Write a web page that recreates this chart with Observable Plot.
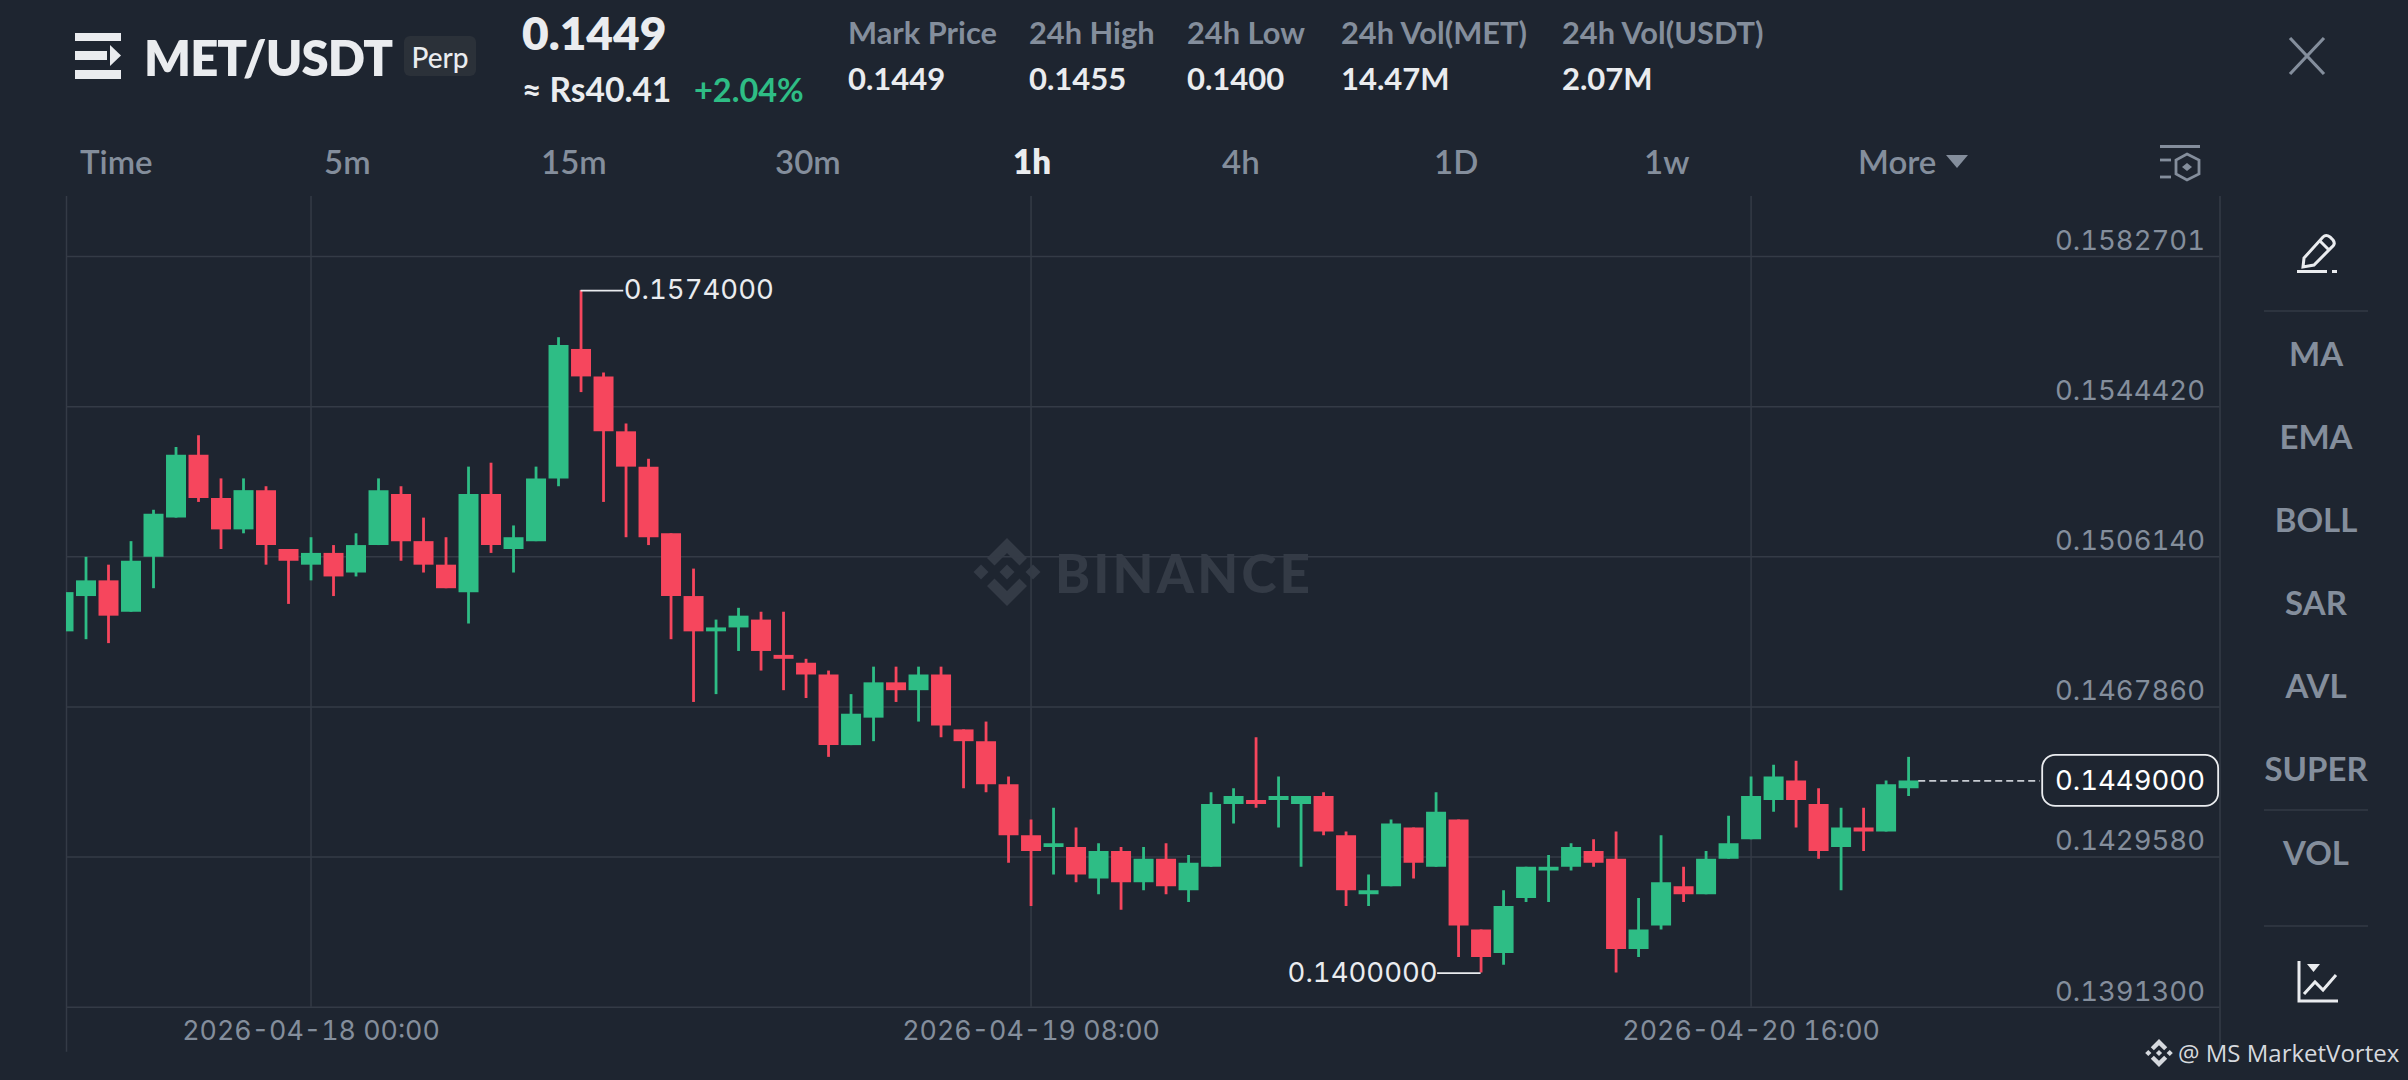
<!DOCTYPE html>
<html>
<head>
<meta charset="utf-8">
<title>MET/USDT Perp</title>
<script src="https://cdn.jsdelivr.net/npm/d3@7"></script>
<script src="https://cdn.jsdelivr.net/npm/@observablehq/plot@0.6"></script>
<style>
  html, body { margin: 0; padding: 0; width: 2408px; height: 1080px; overflow: hidden; background: #1e2530; }
  #stage { position: relative; width: 2408px; height: 1080px; overflow: hidden; font-family: Lato, "Noto Sans", sans-serif; }
  #chart { position: absolute; left: 0; top: 196px; }
  #chart svg { display: block; background: transparent; }
  .t { position: absolute; white-space: nowrap; transform: translateY(-50%); line-height: 1; }
  .c { transform: translate(-50%, -50%); }
  .ico { position: absolute; display: block; overflow: visible; }
  .rule { position: absolute; height: 1.5px; background: #2d343f; }
</style>
</head>
<body>
<div id="stage">
  <svg width="0" height="0" style="position:absolute">
    <defs>
      <g id="bn">
        <polygon points="0,-7.5 7.5,0 0,7.5 -7.5,0"/>
        <polygon points="-26,-7.5 -18.5,0 -26,7.5 -33.5,0"/>
        <polygon points="26,-7.5 33.5,0 26,7.5 18.5,0"/>
        <polygon points="0,-34 20,-14 12.5,-6.5 0,-19 -12.5,-6.5 -20,-14"/>
        <polygon points="0,34 20,14 12.5,6.5 0,19 -12.5,6.5 -20,14"/>
      </g>
    </defs>
  </svg>
  <svg class="ico" style="left:973px;top:538px" width="68" height="68" viewBox="-34 -34 68 68" fill="#343b46"><use href="#bn"/></svg>
  <div class="t" style="left:1055px;top:572px;font-size:53px;font-weight:900;letter-spacing:3.2px;color:#343b46">BINANCE</div>
  <div id="chart"></div>
  <div id="overlay"></div>
  <svg class="ico" style="left:75px;top:33px" width="47" height="46" viewBox="0 0 47 46" fill="#eaecef">
    <rect x="0" y="0" width="46" height="8"/><rect x="0" y="18" width="32" height="9"/><polygon points="35,12 46,22.500 35,33"/><rect x="0" y="37" width="46" height="9"/>
  </svg>
  <svg class="ico" style="left:2288px;top:36px" width="38" height="40" viewBox="0 0 38 40" stroke="#848e9c" stroke-width="3.2" fill="none"><line x1="2" y1="2" x2="36" y2="38"/><line x1="36" y1="2" x2="2" y2="38"/></svg>
  <svg class="ico" style="left:2160px;top:145px" width="40" height="37" viewBox="0 0 40 37" fill="none" stroke="#848e9c" stroke-width="2.8">
    <line x1="0" y1="1.500" x2="40" y2="1.500"/><line x1="0" y1="15" x2="11" y2="15"/><line x1="0" y1="32" x2="11" y2="32"/>
    <polygon points="27,9 39,15 39,29 27,35 16,29 16,15"/><polygon points="27,18 32,22 27,26 22,22" fill="#848e9c" stroke="none"/>
  </svg>
  <svg class="ico" style="left:2296px;top:232px" width="42" height="42" viewBox="0 0 42 42" fill="none" stroke="#eaecef" stroke-width="3">
    <path d="M8 26 L27 5 Q30 2 34 5 L37 8 Q40 12 36 15 L18 33 L7 35 Z"/><line x1="24" y1="9" x2="33" y2="18"/>
    <line x1="1" y1="39.500" x2="31" y2="39.500"/><line x1="36" y1="39.500" x2="41" y2="39.500"/>
  </svg>
  <svg class="ico" style="left:2297px;top:961px" width="42" height="42" viewBox="0 0 42 42" fill="none" stroke="#eaecef" stroke-width="3">
    <polyline points="2,0 2,40 41,40"/><polyline points="7,33 18,21 26,29 39,14"/><polygon points="10,3 23,3 16.500,11" fill="#eaecef" stroke="none"/>
  </svg>
  <svg class="ico" style="left:2145px;top:1039px" width="28" height="28" viewBox="-34 -34 68 68" fill="#d6d9de"><use href="#bn"/></svg>
</div>
<script>
// Hourly candles, oldest first (the first one starts at startTime)
const startTime = "2026-04-17T13:00:00Z";
const opens  = [.1487,.1496,.1500,.1492,.1506,.1516,.1532,.1521,.1513,.1523,.1508,.1504,.1507,.1502,.1509,.1522,.1510,.1504,.1497,.1522,.1508,.1510,.1526,.1559,.1552,.1538,.1529,.1512,.1496,.1487,.1488,.1490,.1481,.1479,.1476,.1458,.1465,.1474,.1472,.1476,.1462,.1459,.1448,.1435,.1432,.1432,.1424,.1431,.1423,.1429,.1421,.1427,.1443,.1444,.1444,.1443,.1445,.1435,.1420,.1422,.1437,.1427,.1439,.1411,.1405,.1419,.1426,.1427,.1431,.1429,.1406,.1412,.1422,.1420,.1429,.1434,.1444,.1449,.1443,.1432,.1437,.1436,.1447];
const highs  = [.1497,.1506,.1504,.1510,.1518,.1534,.1537,.1526,.1526,.1524,.1508,.1511,.1509,.1512,.1526,.1524,.1516,.1511,.1529,.1530,.1514,.1529,.1562,.1574,.1553,.1540,.1531,.1512,.1503,.1490,.1493,.1492,.1492,.1480,.1477,.1471,.1478,.1478,.1478,.1478,.1462,.1464,.1450,.1439,.1442,.1437,.1433,.1432,.1432,.1433,.1430,.1446,.1447,.1460,.1450,.1445,.1446,.1436,.1425,.1439,.1437,.1446,.1439,.1411,.1421,.1427,.1430,.1433,.1434,.1436,.1419,.1435,.1427,.1431,.1440,.1450,.1453,.1454,.1447,.1442,.1442,.1449,.1455];
const lows   = [.1487,.1485,.1484,.1492,.1498,.1516,.1520,.1508,.1512,.1504,.1494,.1500,.1496,.1501,.1509,.1505,.1502,.1498,.1489,.1507,.1502,.1510,.1524,.1548,.1520,.1511,.1509,.1485,.1469,.1471,.1482,.1477,.1472,.1470,.1455,.1458,.1459,.1469,.1464,.1460,.1447,.1446,.1428,.1417,.1425,.1423,.1420,.1416,.1421,.1420,.1418,.1427,.1438,.1442,.1437,.1427,.1435,.1417,.1417,.1422,.1424,.1427,.1404,.1400,.1402,.1418,.1418,.1426,.1427,.1400,.1404,.1411,.1418,.1420,.1429,.1434,.1441,.1437,.1429,.1421,.1431,.1436,.1445];
const closes = [.1497,.1500,.1491,.1505,.1517,.1532,.1521,.1513,.1523,.1509,.1505,.1507,.1501,.1509,.1523,.1510,.1504,.1498,.1522,.1509,.1511,.1526,.1560,.1552,.1538,.1529,.1511,.1496,.1487,.1488,.1491,.1482,.1480,.1476,.1458,.1466,.1474,.1472,.1476,.1463,.1459,.1448,.1435,.1431,.1433,.1425,.1431,.1423,.1429,.1422,.1428,.1443,.1445,.1443,.1445,.1445,.1436,.1421,.1421,.1438,.1428,.1441,.1412,.1404,.1417,.1427,.1427,.1432,.1428,.1406,.1411,.1423,.1420,.1429,.1433,.1445,.1450,.1444,.1431,.1437,.1436,.1448,.1449];

const priceTicks = [0.1582701, 0.154442, 0.150614, 0.146786, 0.142958, 0.13913];
const timeTicks = ["2026-04-18T00:00:00Z", "2026-04-19T08:00:00Z", "2026-04-20T16:00:00Z"];
const highMark = 0.1574, lowMark = 0.14, lastPrice = 0.1449;

// Header and side panel text
const statLabels = ["Mark Price", "24h High", "24h Low", "24h Vol(MET)", "24h Vol(USDT)"];
const statValues = ["0.1449", "0.1455", "0.1400", "14.47M", "2.07M"];
const statLefts = [848, 1029, 1187, 1341, 1562];
const intervals = ["Time", "5m", "15m", "30m", "1h", "4h", "1D", "1w", "More"];
const intervalLefts = [80, 324, 541, 775, 1013, 1222, 1434, 1644, 1858];
const indicators = ["MA", "EMA", "BOLL", "SAR", "AVL", "SUPER", "VOL"];
const indicatorTops = [353, 436, 519, 602, 685, 768, 852];

const bg = "#1e2530", grid = "#343b46", muted = "#848e9c", white = "#eaecef";
const up = "#2ebd85", down = "#f6465d";

const hour = 3600e3;
const t0 = +new Date(startTime);
const at = h => new Date(t0 + h * hour);
const candles = opens.map((o, i) => ({
  time: at(i), open: o, high: highs[i], low: lows[i], close: closes[i],
  dir: closes[i] >= o ? "up" : "down"
}));
const iHigh = highs.indexOf(highMark), iLow = lows.indexOf(lowMark), iLast = candles.length - 1;
const ticks = timeTicks.map(d => new Date(d));

const plot = Plot.plot({
  width: 2408, height: 884,
  marginLeft: 66, marginRight: 188.5, marginTop: 0, marginBottom: 73.3,
  style: {background: "transparent", fontFamily: "Inter, sans-serif", overflow: "visible"},
  x: {type: "utc", domain: [at(0.133), at(95.84)], axis: null},
  y: {domain: [0.13913, 0.159800], axis: null},
  color: {domain: ["up", "down"], range: [up, down]},
  marks: [
    Plot.ruleY(priceTicks, {stroke: grid, strokeWidth: 1.5}),
    Plot.ruleX(ticks, {stroke: grid, strokeWidth: 1.5}),
    Plot.ruleX([at(0.133), at(95.84)], {y1: 0.13798, y2: 0.1598, stroke: grid, strokeWidth: 1.5}),
    Plot.axisY(priceTicks, {anchor: "right", tickSize: 0, tickPadding: -15, textAnchor: "end", dy: -15.5,
      fontSize: 27.5, color: muted, tickFormat: d => d.toFixed(7), label: null}),
    Plot.axisX(ticks, {anchor: "bottom", tickSize: 0, tickPadding: 14, fontSize: 26.8, color: muted,
      tickFormat: d3.utcFormat("%Y-%m-%d %H:%M"), label: null}),
    Plot.ruleX(candles, {x: "time", y1: "low", y2: "high", stroke: "dir", strokeWidth: 2.8, clip: true}),
    Plot.ruleX(candles, {x: "time", y1: "open", y2: "close", stroke: "dir", strokeWidth: 20, clip: true}),
    // high / low call-outs
    Plot.ruleY([highMark], {x1: at(iHigh), x2: at(iHigh + 1.9), stroke: white, strokeWidth: 1.8}),
    Plot.text([highMark], {x: at(iHigh + 1.9), y: d => d, text: d => d.toFixed(7), textAnchor: "start",
      fill: white, fontSize: 27.5, fontVariant: "tabular-nums"}),
    Plot.ruleY([lowMark], {x1: at(iLow - 1.93), x2: at(iLow), stroke: white, strokeWidth: 1.8}),
    Plot.text([lowMark], {x: at(iLow - 1.93), y: d => d, text: d => d.toFixed(7), textAnchor: "end",
      fill: white, fontSize: 27.5, fontVariant: "tabular-nums"}),
    // last price tag
    Plot.ruleY([lastPrice], {x1: at(iLast + 0.45), x2: at(iLast + 5.85), stroke: "#c8ccd2", strokeWidth: 1.6, strokeDasharray: "7,4"}),
    Plot.rect([lastPrice], {x1: at(iLast + 5.96), x2: at(iLast + 13.78), y1: 0.14425, y2: 0.14555, rx: 13,
      fill: bg, stroke: white, strokeWidth: 1.8}),
    Plot.text([lastPrice], {y: d => d, frameAnchor: "right", dx: -15, text: d => d.toFixed(7),
      textAnchor: "end", fill: "#ffffff", fontSize: 27.5, fontVariant: "tabular-nums"})
  ]
});
document.getElementById("chart").append(plot);

// Header, interval tabs and indicator buttons
const overlay = document.getElementById("overlay");
function put(text, left, top, css, center) {
  const el = document.createElement("div");
  el.className = center ? "t c" : "t";
  el.textContent = text;
  el.style.cssText = `left:${left}px;top:${top}px;` + css;
  overlay.append(el);
}
put("MET/USDT", 144, 57, `font-size:49px;font-weight:800;color:${white};letter-spacing:-0.9px`);
const badge = document.createElement("div");
badge.style.cssText = "position:absolute;left:404px;top:36px;width:72px;height:40px;border-radius:6px;background:#2b3139";
overlay.append(badge);
put("Perp", 440, 57, `font-size:28px;font-weight:500;color:${white}`, true);
put("0.1449", 522, 33, `font-size:46px;font-weight:800;color:${white}`);
put("≈ Rs40.41", 522, 90, `font-size:33.500px;font-weight:700;color:${white}`);
put("+2.04%", 694, 90, `font-size:32.500px;font-weight:700;color:${up}`);
statLabels.forEach((s, i) => put(s, statLefts[i], 33, `font-size:30.800px;font-weight:700;color:${muted}`));
statValues.forEach((s, i) => put(s, statLefts[i], 78, `font-size:31px;font-weight:700;color:${white}`));
intervals.forEach((s, i) => put(s, intervalLefts[i], 161,
  s === "1h" ? `font-size:33px;font-weight:800;color:${white}` : `font-size:33px;font-weight:600;color:${muted}`));
const tri = document.createElementNS("http://www.w3.org/2000/svg", "svg");
tri.setAttribute("class", "ico");
tri.setAttribute("style", "left:1946px;top:155px");
tri.setAttribute("width", "22"); tri.setAttribute("height", "13");
tri.innerHTML = `<polygon points="0,0 22,0 11,13" fill="${muted}"/>`;
overlay.append(tri);
indicators.forEach((s, i) => put(s, 2316, indicatorTops[i], `font-size:33px;font-weight:700;color:${muted}`, true));
[310, 809, 925].forEach(y => {
  const r = document.createElement("div");
  r.className = "rule";
  r.style.cssText = `left:2264px;width:104px;top:${y}px`;
  overlay.append(r);
});
put("@ MS MarketVortex", 2178, 1053, `font-family:'Open Sans',sans-serif;font-size:24px;color:#d6d9de`);
</script>
</body>
</html>
